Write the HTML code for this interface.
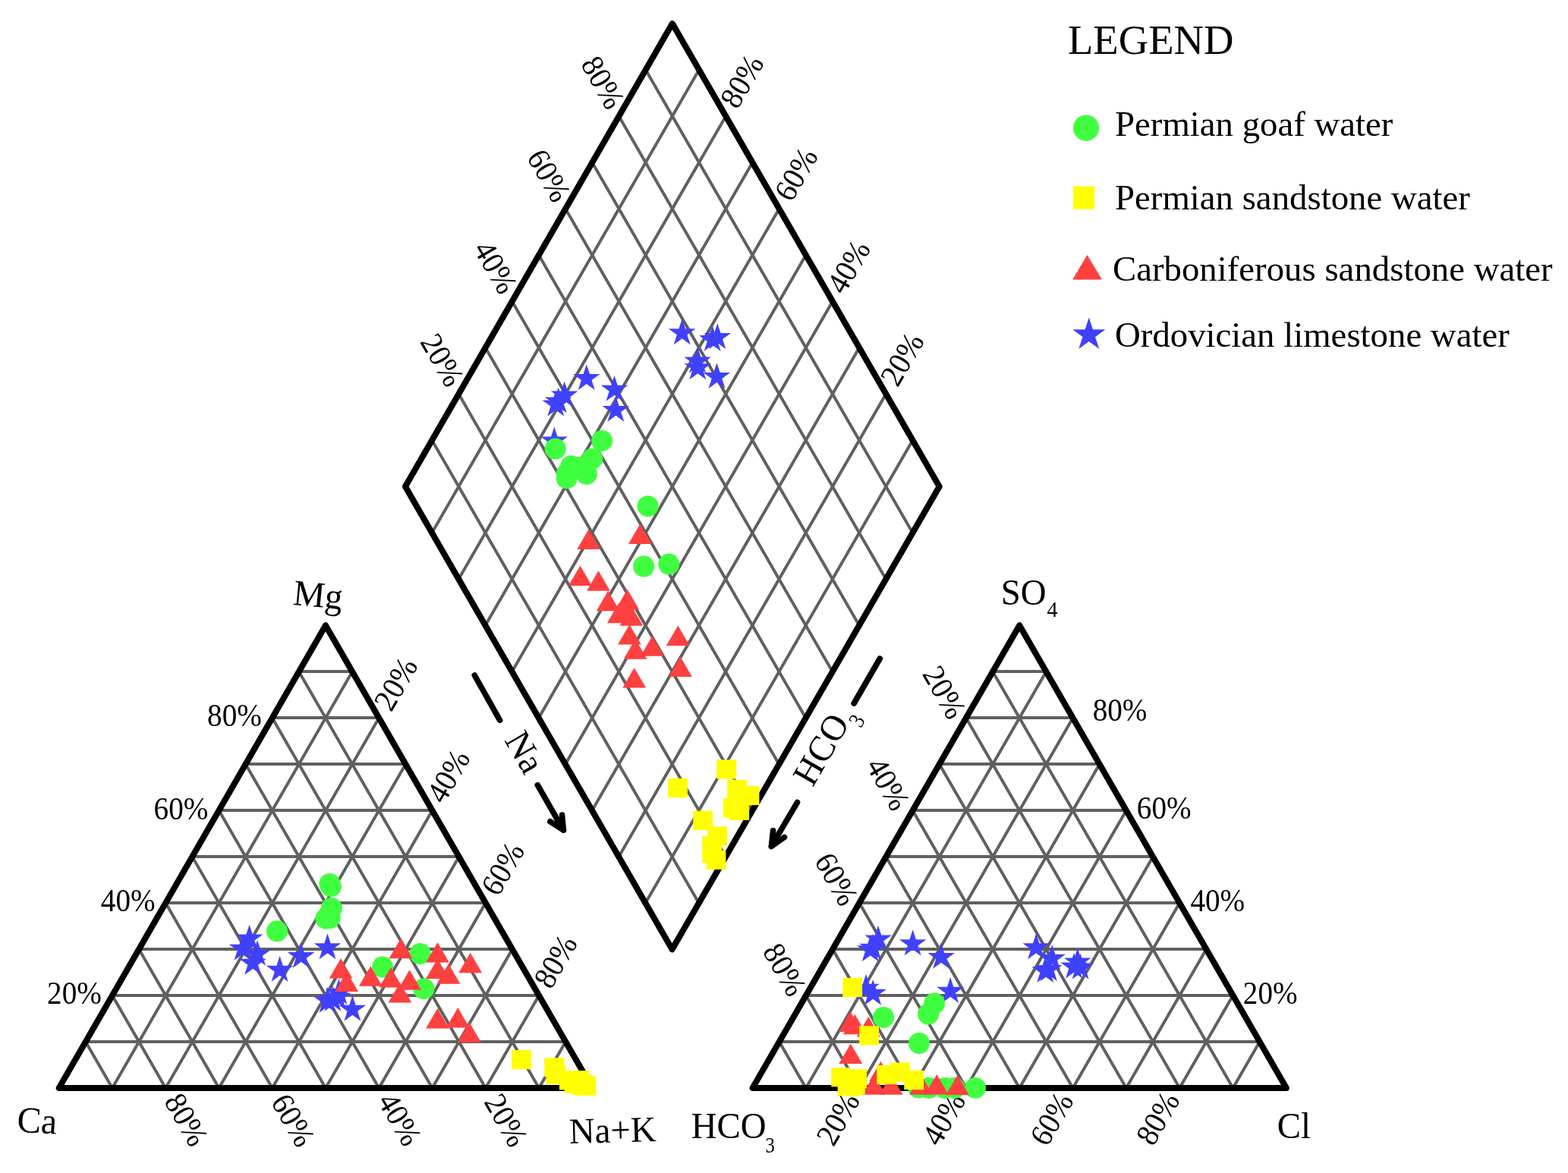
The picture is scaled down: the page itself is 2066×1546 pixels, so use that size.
<!DOCTYPE html>
<html lang="en"><head><meta charset="utf-8"><title>Piper diagram</title>
<style>html,body{margin:0;padding:0;background:#fff;}body{width:2066px;height:1546px;overflow:hidden;}svg{display:block;}text{font-family:'Liberation Serif', 'Times New Roman', serif;fill:#000;}</style>
</head><body>
<svg xmlns="http://www.w3.org/2000/svg" width="2066" height="1546" viewBox="0 0 2066 1546">
<rect width="2066" height="1546" fill="#fff"/>
<g stroke="#606060" stroke-width="4" fill="none">
<line x1="112.83" y1="1373" x2="745.26" y2="1373"/>
<line x1="147.97" y1="1434" x2="112.83" y2="1373.03"/>
<line x1="710.13" y1="1434" x2="745.26" y2="1373.03"/>
<line x1="147.96" y1="1312" x2="710.12" y2="1312"/>
<line x1="218.24" y1="1434" x2="147.96" y2="1312.06"/>
<line x1="639.86" y1="1434" x2="710.12" y2="1312.06"/>
<line x1="183.09" y1="1251" x2="674.98" y2="1251"/>
<line x1="288.51" y1="1434" x2="183.09" y2="1251.09"/>
<line x1="569.59" y1="1434" x2="674.98" y2="1251.09"/>
<line x1="218.22" y1="1190" x2="639.84" y2="1190"/>
<line x1="358.78" y1="1434" x2="218.22" y2="1190.12"/>
<line x1="499.32" y1="1434" x2="639.84" y2="1190.12"/>
<line x1="253.35" y1="1129" x2="604.7" y2="1129"/>
<line x1="429.05" y1="1434" x2="253.35" y2="1129.15"/>
<line x1="429.05" y1="1434" x2="604.7" y2="1129.15"/>
<line x1="288.48" y1="1068" x2="569.56" y2="1068"/>
<line x1="499.32" y1="1434" x2="288.48" y2="1068.18"/>
<line x1="358.78" y1="1434" x2="569.56" y2="1068.18"/>
<line x1="323.61" y1="1007" x2="534.42" y2="1007"/>
<line x1="569.59" y1="1434" x2="323.61" y2="1007.21"/>
<line x1="288.51" y1="1434" x2="534.42" y2="1007.21"/>
<line x1="358.74" y1="946" x2="499.28" y2="946"/>
<line x1="639.86" y1="1434" x2="358.74" y2="946.24"/>
<line x1="218.24" y1="1434" x2="499.28" y2="946.24"/>
<line x1="393.87" y1="885" x2="464.14" y2="885"/>
<line x1="710.13" y1="1434" x2="393.87" y2="885.27"/>
<line x1="147.97" y1="1434" x2="464.14" y2="885.27"/>
<line x1="1026.77" y1="1373" x2="1659.74" y2="1373"/>
<line x1="1061.93" y1="1434" x2="1026.77" y2="1373.03"/>
<line x1="1624.57" y1="1434" x2="1659.74" y2="1373.03"/>
<line x1="1061.93" y1="1312" x2="1624.57" y2="1312"/>
<line x1="1132.26" y1="1434" x2="1061.93" y2="1312.06"/>
<line x1="1554.24" y1="1434" x2="1624.57" y2="1312.06"/>
<line x1="1097.1" y1="1251" x2="1589.4" y2="1251"/>
<line x1="1202.59" y1="1434" x2="1097.1" y2="1251.09"/>
<line x1="1483.91" y1="1434" x2="1589.4" y2="1251.09"/>
<line x1="1132.26" y1="1190" x2="1554.24" y2="1190"/>
<line x1="1272.92" y1="1434" x2="1132.26" y2="1190.12"/>
<line x1="1413.58" y1="1434" x2="1554.24" y2="1190.12"/>
<line x1="1167.42" y1="1129" x2="1519.08" y2="1129"/>
<line x1="1343.25" y1="1434" x2="1167.42" y2="1129.15"/>
<line x1="1343.25" y1="1434" x2="1519.08" y2="1129.15"/>
<line x1="1202.59" y1="1068" x2="1483.91" y2="1068"/>
<line x1="1413.58" y1="1434" x2="1202.59" y2="1068.18"/>
<line x1="1272.92" y1="1434" x2="1483.91" y2="1068.18"/>
<line x1="1237.76" y1="1007" x2="1448.75" y2="1007"/>
<line x1="1483.91" y1="1434" x2="1237.76" y2="1007.21"/>
<line x1="1202.59" y1="1434" x2="1448.75" y2="1007.21"/>
<line x1="1272.92" y1="946" x2="1413.58" y2="946"/>
<line x1="1554.24" y1="1434" x2="1272.92" y2="946.24"/>
<line x1="1132.26" y1="1434" x2="1413.58" y2="946.24"/>
<line x1="1308.09" y1="885" x2="1378.41" y2="885"/>
<line x1="1624.57" y1="1434" x2="1308.09" y2="885.27"/>
<line x1="1061.93" y1="1434" x2="1378.41" y2="885.27"/>
<line x1="850.71" y1="92.12" x2="1202.49" y2="702.3"/>
<line x1="921.08" y1="92.12" x2="569.16" y2="702.3"/>
<line x1="815.52" y1="153.14" x2="1167.28" y2="763.3"/>
<line x1="956.26" y1="153.14" x2="604.32" y2="763.3"/>
<line x1="780.33" y1="214.16" x2="1132.07" y2="824.3"/>
<line x1="991.44" y1="214.16" x2="639.48" y2="824.3"/>
<line x1="745.14" y1="275.18" x2="1096.86" y2="885.3"/>
<line x1="1026.62" y1="275.18" x2="674.64" y2="885.3"/>
<line x1="709.95" y1="336.2" x2="1061.65" y2="946.3"/>
<line x1="1061.8" y1="336.2" x2="709.8" y2="946.3"/>
<line x1="674.76" y1="397.22" x2="1026.44" y2="1007.3"/>
<line x1="1096.98" y1="397.22" x2="744.96" y2="1007.3"/>
<line x1="639.57" y1="458.24" x2="991.23" y2="1068.3"/>
<line x1="1132.16" y1="458.24" x2="780.12" y2="1068.3"/>
<line x1="604.38" y1="519.26" x2="956.02" y2="1129.3"/>
<line x1="1167.34" y1="519.26" x2="815.28" y2="1129.3"/>
<line x1="569.19" y1="580.28" x2="920.81" y2="1190.3"/>
<line x1="1202.52" y1="580.28" x2="850.44" y2="1190.3"/>
</g>
<g stroke="#000" stroke-width="8" fill="none" stroke-linejoin="round">
<polygon points="77.7,1434 780.4,1434 429,824.3"/>
<polygon points="991.6,1434 1694.9,1434 1343.25,824.3"/>
<polygon points="885.9,31.1 1237.7,641.3 885.6,1251.3 534,641.3"/>
</g>
<g stroke="#000" stroke-width="7.6" fill="none" stroke-linecap="round" stroke-linejoin="round">
<line x1="625.3" y1="890" x2="658.5" y2="949.1"/>
<polyline points="708.3,1034.7 742.4,1094.1"/>
<polyline points="724.9,1082.7 742.4,1094.1 740.6,1074"/>
<line x1="1159.3" y1="868" x2="1125.2" y2="927"/>
<polyline points="1050.5,1057.6 1016.4,1115.4"/>
<polyline points="1018.6,1094.8 1016.4,1115.4 1033.5,1103.5"/>
</g>
<g>
<g transform="translate(1406.9 70.97)"><text transform="scale(1 1)" font-size="54.7">LEGEND</text></g>
<g transform="translate(764.42 84.5) rotate(60)"><text transform="scale(0.94 1)" font-size="41.7">80%</text></g>
<g transform="translate(693.35 207.17) rotate(60)"><text transform="scale(0.94 1)" font-size="41.7">60%</text></g>
<g transform="translate(623.05 327.98) rotate(60)"><text transform="scale(0.94 1)" font-size="41.7">40%</text></g>
<g transform="translate(552.83 450.4) rotate(60)"><text transform="scale(0.94 1)" font-size="41.7">20%</text></g>
<g transform="translate(971.6 145.2) rotate(-60)"><text transform="scale(0.94 1)" font-size="41.7">80%</text></g>
<g transform="translate(1042.9 267.73) rotate(-60)"><text transform="scale(0.94 1)" font-size="41.7">60%</text></g>
<g transform="translate(1112.1 389.75) rotate(-60)"><text transform="scale(0.94 1)" font-size="41.7">40%</text></g>
<g transform="translate(1182.82 511.52) rotate(-60)"><text transform="scale(0.94 1)" font-size="41.7">20%</text></g>
<g transform="translate(515.62 939.38) rotate(-60)"><text transform="scale(0.94 1)" font-size="41.7">20%</text></g>
<g transform="translate(584.7 1061) rotate(-60)"><text transform="scale(0.94 1)" font-size="41.7">40%</text></g>
<g transform="translate(656.5 1183.03) rotate(-60)"><text transform="scale(0.94 1)" font-size="41.7">60%</text></g>
<g transform="translate(725.9 1305.2) rotate(-60)"><text transform="scale(0.94 1)" font-size="41.7">80%</text></g>
<g transform="translate(215.62 1451.6) rotate(60)"><text transform="scale(0.94 1)" font-size="41.7">80%</text></g>
<g transform="translate(356.3 1452.28) rotate(60)"><text transform="scale(0.94 1)" font-size="41.7">60%</text></g>
<g transform="translate(496.85 1451.03) rotate(60)"><text transform="scale(0.94 1)" font-size="41.7">40%</text></g>
<g transform="translate(636.92 1452.35) rotate(60)"><text transform="scale(0.94 1)" font-size="41.7">20%</text></g>
<g transform="translate(273.05 957.33)"><text transform="scale(0.94 1)" font-size="41.7">80%</text></g>
<g transform="translate(202.62 1079.62)"><text transform="scale(0.94 1)" font-size="41.7">60%</text></g>
<g transform="translate(132.82 1200.62)"><text transform="scale(0.94 1)" font-size="41.7">40%</text></g>
<g transform="translate(62.12 1322.88)"><text transform="scale(0.94 1)" font-size="41.7">20%</text></g>
<g transform="translate(1214.42 888.3) rotate(60)"><text transform="scale(0.94 1)" font-size="41.7">20%</text></g>
<g transform="translate(1140.2 1009.08) rotate(60)"><text transform="scale(0.94 1)" font-size="41.7">40%</text></g>
<g transform="translate(1072.2 1134.53) rotate(60)"><text transform="scale(0.94 1)" font-size="41.7">60%</text></g>
<g transform="translate(1004.03 1253.85) rotate(60)"><text transform="scale(0.94 1)" font-size="41.7">80%</text></g>
<g transform="translate(1439.65 949.73)"><text transform="scale(0.94 1)" font-size="41.7">80%</text></g>
<g transform="translate(1497.83 1079.38)"><text transform="scale(0.94 1)" font-size="41.7">60%</text></g>
<g transform="translate(1568.42 1200.62)"><text transform="scale(0.94 1)" font-size="41.7">40%</text></g>
<g transform="translate(1637.83 1322.88)"><text transform="scale(0.94 1)" font-size="41.7">20%</text></g>
<g transform="translate(1098.28 1512.47) rotate(-60)"><text transform="scale(0.94 1)" font-size="41.7">20%</text></g>
<g transform="translate(1237.45 1512.45) rotate(-60)"><text transform="scale(0.94 1)" font-size="41.7">40%</text></g>
<g transform="translate(1379.65 1512.67) rotate(-60)"><text transform="scale(0.94 1)" font-size="41.7">60%</text></g>
<g transform="translate(1519.55 1512.05) rotate(-60)"><text transform="scale(0.94 1)" font-size="41.7">80%</text></g>
<g transform="translate(385.18 796.7) rotate(5.5)"><text transform="scale(0.98 1)" font-size="47.8">Mg</text></g>
<g transform="translate(21.67 1491.42) rotate(3.5)"><text transform="scale(0.98 1)" font-size="48.5">Ca</text></g>
<g transform="translate(750.17 1507.03) rotate(-1.5)"><text transform="scale(0.98 1)" font-size="47.8">Na+K</text></g>
<g transform="translate(910.65 1500)"><text transform="scale(0.98 1)" font-size="47.8">HCO</text><text transform="translate(97.91 18.7) scale(0.82 1)" font-size="30">3</text></g>
<g transform="translate(1682.78 1500.03)"><text transform="scale(0.98 1)" font-size="47.8">Cl</text></g>
<g transform="translate(1318.75 796.6)"><text transform="scale(0.98 1)" font-size="47.8">SO</text><text transform="translate(60.69 16) scale(0.95 1)" font-size="29.7">4</text></g>
<g transform="translate(664.02 975.58) rotate(60)"><text transform="scale(0.98 1)" font-size="47.8">Na</text></g>
<g transform="translate(1070.8 1038.38) rotate(-60)"><text transform="scale(0.98 1)" font-size="47.8">HCO</text><text transform="translate(99.41 16) scale(0.85 1)" font-size="30">3</text></g>
<text x="1469" y="179.3" font-size="46.8">Permian goaf water</text>
<text x="1469" y="275.5" font-size="46.8">Permian sandstone water</text>
<text x="1466" y="370.3" font-size="46.8">Carboniferous sandstone water</text>
<text x="1469" y="457" font-size="46.8">Ordovician limestone water</text>
</g>
<g>
<polygon fill="#4040ff" points="898.7,420.3 902.9,433.22 916.48,433.22 905.49,441.21 909.69,454.13 898.7,446.14 887.71,454.13 891.91,441.21 880.92,433.22 894.5,433.22"/>
<polygon fill="#4040ff" points="938.7,429 942.9,441.92 956.48,441.92 945.49,449.91 949.69,462.83 938.7,454.84 927.71,462.83 931.91,449.91 920.92,441.92 934.5,441.92"/>
<polygon fill="#4040ff" points="945.3,426.1 949.5,439.02 963.08,439.02 952.09,447.01 956.29,459.93 945.3,451.94 934.31,459.93 938.51,447.01 927.52,439.02 941.1,439.02"/>
<polygon fill="#4040ff" points="919.1,457.6 923.3,470.52 936.88,470.52 925.89,478.51 930.09,491.43 919.1,483.44 908.11,491.43 912.31,478.51 901.32,470.52 914.9,470.52"/>
<polygon fill="#4040ff" points="919.3,466.3 923.5,479.22 937.08,479.22 926.09,487.21 930.29,500.13 919.3,492.14 908.31,500.13 912.51,487.21 901.52,479.22 915.1,479.22"/>
<polygon fill="#4040ff" points="944.5,478.2 948.7,491.12 962.28,491.12 951.29,499.11 955.49,512.03 944.5,504.04 933.51,512.03 937.71,499.11 926.72,491.12 940.3,491.12"/>
<polygon fill="#4040ff" points="772.8,480.2 777,493.12 790.58,493.12 779.59,501.11 783.79,514.03 772.8,506.04 761.81,514.03 766.01,501.11 755.02,493.12 768.6,493.12"/>
<polygon fill="#4040ff" points="809.5,494.8 813.7,507.72 827.28,507.72 816.29,515.71 820.49,528.63 809.5,520.64 798.51,528.63 802.71,515.71 791.72,507.72 805.3,507.72"/>
<polygon fill="#4040ff" points="811.4,522 815.6,534.92 829.18,534.92 818.19,542.91 822.39,555.83 811.4,547.84 800.41,555.83 804.61,542.91 793.62,534.92 807.2,534.92"/>
<polygon fill="#4040ff" points="743.7,502.5 747.9,515.42 761.48,515.42 750.49,523.41 754.69,536.33 743.7,528.34 732.71,536.33 736.91,523.41 725.92,515.42 739.5,515.42"/>
<polygon fill="#4040ff" points="735.7,510.5 739.9,523.42 753.48,523.42 742.49,531.41 746.69,544.33 735.7,536.34 724.71,544.33 728.91,531.41 717.92,523.42 731.5,523.42"/>
<polygon fill="#4040ff" points="732.3,514.7 736.5,527.62 750.08,527.62 739.09,535.61 743.29,548.53 732.3,540.54 721.31,548.53 725.51,535.61 714.52,527.62 728.1,527.62"/>
<polygon fill="#4040ff" points="730.3,562.5 734.5,575.42 748.08,575.42 737.09,583.41 741.29,596.33 730.3,588.34 719.31,596.33 723.51,583.41 712.52,575.42 726.1,575.42"/>
<circle fill="#40ff40" cx="761" cy="615.9" r="14"/>
<circle fill="#40ff40" cx="746.8" cy="624.4" r="14"/>
<circle fill="#40ff40" cx="793.2" cy="580.9" r="14"/>
<circle fill="#40ff40" cx="731.7" cy="591.5" r="14"/>
<circle fill="#40ff40" cx="780.3" cy="604.7" r="14"/>
<circle fill="#40ff40" cx="752.4" cy="614.2" r="14"/>
<circle fill="#40ff40" cx="746.7" cy="630.3" r="14"/>
<circle fill="#40ff40" cx="772.9" cy="624.8" r="14"/>
<circle fill="#40ff40" cx="853.6" cy="667.2" r="14"/>
<circle fill="#40ff40" cx="848.2" cy="746.5" r="14"/>
<circle fill="#40ff40" cx="881.2" cy="743.6" r="14"/>
<polygon fill="#ff4040" points="824.7,793.3 809.3,819.8 840.1,819.8"/>
<polygon fill="#ff4040" points="843.4,690.5 828,717 858.8,717"/>
<polygon fill="#ff4040" points="775.7,697.5 760.3,724 791.1,724"/>
<polygon fill="#ff4040" points="764.5,745.5 749.1,772 779.9,772"/>
<polygon fill="#ff4040" points="788.5,752.3 773.1,778.8 803.9,778.8"/>
<polygon fill="#ff4040" points="801.2,778.7 785.8,805.2 816.6,805.2"/>
<polygon fill="#ff4040" points="826.6,776.8 811.2,803.3 842,803.3"/>
<polygon fill="#ff4040" points="815.3,794.7 799.9,821.2 830.7,821.2"/>
<polygon fill="#ff4040" points="831.9,798.3 816.5,824.8 847.3,824.8"/>
<polygon fill="#ff4040" points="829.4,823.1 814,849.6 844.8,849.6"/>
<polygon fill="#ff4040" points="859.4,838.3 844,864.8 874.8,864.8"/>
<polygon fill="#ff4040" points="893.3,824.5 877.9,851 908.7,851"/>
<polygon fill="#ff4040" points="837.1,842.3 821.7,868.8 852.5,868.8"/>
<polygon fill="#ff4040" points="896.5,865.6 881.1,892.1 911.9,892.1"/>
<polygon fill="#ff4040" points="835.7,880.1 820.3,906.6 851.1,906.6"/>
<rect fill="#ffff00" x="880.1" y="1025.9" width="25.8" height="25.2"/>
<rect fill="#ffff00" x="944.3" y="1001.4" width="25.8" height="25.2"/>
<rect fill="#ffff00" x="958.2" y="1027.8" width="25.8" height="25.2"/>
<rect fill="#ffff00" x="974.6" y="1035.9" width="25.8" height="25.2"/>
<rect fill="#ffff00" x="953" y="1052.3" width="25.8" height="25.2"/>
<rect fill="#ffff00" x="961.3" y="1055.7" width="25.8" height="25.2"/>
<rect fill="#ffff00" x="913.3" y="1068.8" width="25.8" height="25.2"/>
<rect fill="#ffff00" x="932.1" y="1089.4" width="25.8" height="25.2"/>
<rect fill="#ffff00" x="925.2" y="1102.2" width="25.8" height="25.2"/>
<rect fill="#ffff00" x="925.2" y="1111.8" width="25.8" height="25.2"/>
<rect fill="#ffff00" x="930.6" y="1120.8" width="25.8" height="25.2"/>
<polygon fill="#4040ff" points="328.6,1218.7 332.8,1231.62 346.38,1231.62 335.39,1239.61 339.59,1252.53 328.6,1244.54 317.61,1252.53 321.81,1239.61 310.82,1231.62 324.4,1231.62"/>
<polygon fill="#4040ff" points="319.5,1231.9 323.7,1244.82 337.28,1244.82 326.29,1252.81 330.49,1265.73 319.5,1257.74 308.51,1265.73 312.71,1252.81 301.72,1244.82 315.3,1244.82"/>
<polygon fill="#4040ff" points="339.1,1238.9 343.3,1251.82 356.88,1251.82 345.89,1259.81 350.09,1272.73 339.1,1264.74 328.11,1272.73 332.31,1259.81 321.32,1251.82 334.9,1251.82"/>
<polygon fill="#4040ff" points="333.2,1250.8 337.4,1263.72 350.98,1263.72 339.99,1271.71 344.19,1284.63 333.2,1276.64 322.21,1284.63 326.41,1271.71 315.42,1263.72 329,1263.72"/>
<polygon fill="#4040ff" points="368.6,1259.9 372.8,1272.82 386.38,1272.82 375.39,1280.81 379.59,1293.73 368.6,1285.74 357.61,1293.73 361.81,1280.81 350.82,1272.82 364.4,1272.82"/>
<polygon fill="#4040ff" points="396.7,1242 400.9,1254.92 414.48,1254.92 403.49,1262.91 407.69,1275.83 396.7,1267.84 385.71,1275.83 389.91,1262.91 378.92,1254.92 392.5,1254.92"/>
<polygon fill="#4040ff" points="431.5,1230.3 435.7,1243.22 449.28,1243.22 438.29,1251.21 442.49,1264.13 431.5,1256.14 420.51,1264.13 424.71,1251.21 413.72,1243.22 427.3,1243.22"/>
<polygon fill="#4040ff" points="431.6,1300.8 435.8,1313.72 449.38,1313.72 438.39,1321.71 442.59,1334.63 431.6,1326.64 420.61,1334.63 424.81,1321.71 413.82,1313.72 427.4,1313.72"/>
<polygon fill="#4040ff" points="444.6,1295.7 448.8,1308.62 462.38,1308.62 451.39,1316.61 455.59,1329.53 444.6,1321.54 433.61,1329.53 437.81,1316.61 426.82,1308.62 440.4,1308.62"/>
<polygon fill="#4040ff" points="438.5,1298.9 442.7,1311.82 456.28,1311.82 445.29,1319.81 449.49,1332.73 438.5,1324.74 427.51,1332.73 431.71,1319.81 420.72,1311.82 434.3,1311.82"/>
<polygon fill="#4040ff" points="446.5,1290 450.7,1302.92 464.28,1302.92 453.29,1310.91 457.49,1323.83 446.5,1315.84 435.51,1323.83 439.71,1310.91 428.72,1302.92 442.3,1302.92"/>
<polygon fill="#4040ff" points="464.4,1311.8 468.6,1324.72 482.18,1324.72 471.19,1332.71 475.39,1345.63 464.4,1337.64 453.41,1345.63 457.61,1332.71 446.62,1324.72 460.2,1324.72"/>
<circle fill="#40ff40" cx="434.4" cy="1164.9" r="14"/>
<circle fill="#40ff40" cx="436" cy="1168.2" r="14"/>
<circle fill="#40ff40" cx="436.9" cy="1196.9" r="14"/>
<circle fill="#40ff40" cx="429.4" cy="1210.7" r="14"/>
<circle fill="#40ff40" cx="434.7" cy="1209.9" r="14"/>
<circle fill="#40ff40" cx="365" cy="1227.3" r="14"/>
<circle fill="#40ff40" cx="504" cy="1274.5" r="14"/>
<circle fill="#40ff40" cx="553.5" cy="1257" r="14"/>
<circle fill="#40ff40" cx="558.4" cy="1303.2" r="14"/>
<polygon fill="#ff4040" points="449.1,1263 433.7,1289.5 464.5,1289.5"/>
<polygon fill="#ff4040" points="456.7,1280.5 441.3,1307 472.1,1307"/>
<polygon fill="#ff4040" points="488.3,1273.2 472.9,1299.7 503.7,1299.7"/>
<polygon fill="#ff4040" points="514.9,1275.1 499.5,1301.6 530.3,1301.6"/>
<polygon fill="#ff4040" points="528,1236.8 512.6,1263.3 543.4,1263.3"/>
<polygon fill="#ff4040" points="539.6,1278.3 524.2,1304.8 555,1304.8"/>
<polygon fill="#ff4040" points="527,1295 511.6,1321.5 542.4,1321.5"/>
<polygon fill="#ff4040" points="576.5,1241.9 561.1,1268.4 591.9,1268.4"/>
<polygon fill="#ff4040" points="576.5,1263.5 561.1,1290 591.9,1290"/>
<polygon fill="#ff4040" points="591,1270.2 575.6,1296.7 606.4,1296.7"/>
<polygon fill="#ff4040" points="619.7,1255.7 604.3,1282.2 635.1,1282.2"/>
<polygon fill="#ff4040" points="576.5,1329 561.1,1355.5 591.9,1355.5"/>
<polygon fill="#ff4040" points="603.3,1328 587.9,1354.5 618.7,1354.5"/>
<polygon fill="#ff4040" points="618.6,1347.4 603.2,1373.9 634,1373.9"/>
<rect fill="#ffff00" x="674.2" y="1384" width="25.8" height="25.2"/>
<rect fill="#ffff00" x="717.3" y="1394.2" width="25.8" height="25.2"/>
<rect fill="#ffff00" x="719.6" y="1403.9" width="25.8" height="25.2"/>
<rect fill="#ffff00" x="737" y="1411.2" width="25.8" height="25.2"/>
<rect fill="#ffff00" x="743.8" y="1415.8" width="25.8" height="25.2"/>
<rect fill="#ffff00" x="750.5" y="1411" width="25.8" height="25.2"/>
<rect fill="#ffff00" x="755.1" y="1416.6" width="25.8" height="25.2"/>
<rect fill="#ffff00" x="752.9" y="1417.9" width="25.8" height="25.2"/>
<rect fill="#ffff00" x="759.3" y="1418.8" width="25.8" height="25.2"/>
<polygon fill="#4040ff" points="1157.1,1219.7 1161.3,1232.62 1174.88,1232.62 1163.89,1240.61 1168.09,1253.53 1157.1,1245.54 1146.11,1253.53 1150.31,1240.61 1139.32,1232.62 1152.9,1232.62"/>
<polygon fill="#4040ff" points="1146.7,1233.4 1150.9,1246.32 1164.48,1246.32 1153.49,1254.31 1157.69,1267.23 1146.7,1259.24 1135.71,1267.23 1139.91,1254.31 1128.92,1246.32 1142.5,1246.32"/>
<polygon fill="#4040ff" points="1150,1230.8 1154.2,1243.72 1167.78,1243.72 1156.79,1251.71 1160.99,1264.63 1150,1256.64 1139.01,1264.63 1143.21,1251.71 1132.22,1243.72 1145.8,1243.72"/>
<polygon fill="#4040ff" points="1202.7,1225.3 1206.9,1238.22 1220.48,1238.22 1209.49,1246.21 1213.69,1259.13 1202.7,1251.14 1191.71,1259.13 1195.91,1246.21 1184.92,1238.22 1198.5,1238.22"/>
<polygon fill="#4040ff" points="1240.1,1243 1244.3,1255.92 1257.88,1255.92 1246.89,1263.91 1251.09,1276.83 1240.1,1268.84 1229.11,1276.83 1233.31,1263.91 1222.32,1255.92 1235.9,1255.92"/>
<polygon fill="#4040ff" points="1252.2,1287.9 1256.4,1300.82 1269.98,1300.82 1258.99,1308.81 1263.19,1321.73 1252.2,1313.74 1241.21,1321.73 1245.41,1308.81 1234.42,1300.82 1248,1300.82"/>
<polygon fill="#4040ff" points="1141.1,1283.8 1145.3,1296.72 1158.88,1296.72 1147.89,1304.71 1152.09,1317.63 1141.1,1309.64 1130.11,1317.63 1134.31,1304.71 1123.32,1296.72 1136.9,1296.72"/>
<polygon fill="#4040ff" points="1150.2,1290.9 1154.4,1303.82 1167.98,1303.82 1156.99,1311.81 1161.19,1324.73 1150.2,1316.74 1139.21,1324.73 1143.41,1311.81 1132.42,1303.82 1146,1303.82"/>
<polygon fill="#4040ff" points="1365.2,1230.3 1369.4,1243.22 1382.98,1243.22 1371.99,1251.21 1376.19,1264.13 1365.2,1256.14 1354.21,1264.13 1358.41,1251.21 1347.42,1243.22 1361,1243.22"/>
<polygon fill="#4040ff" points="1386.2,1244.9 1390.4,1257.82 1403.98,1257.82 1392.99,1265.81 1397.19,1278.73 1386.2,1270.74 1375.21,1278.73 1379.41,1265.81 1368.42,1257.82 1382,1257.82"/>
<polygon fill="#4040ff" points="1377.2,1261.1 1381.4,1274.02 1394.98,1274.02 1383.99,1282.01 1388.19,1294.93 1377.2,1286.94 1366.21,1294.93 1370.41,1282.01 1359.42,1274.02 1373,1274.02"/>
<polygon fill="#4040ff" points="1381.9,1259.1 1386.1,1272.02 1399.68,1272.02 1388.69,1280.01 1392.89,1292.93 1381.9,1284.94 1370.91,1292.93 1375.11,1280.01 1364.12,1272.02 1377.7,1272.02"/>
<polygon fill="#4040ff" points="1419.8,1249.7 1424,1262.62 1437.58,1262.62 1426.59,1270.61 1430.79,1283.53 1419.8,1275.54 1408.81,1283.53 1413.01,1270.61 1402.02,1262.62 1415.6,1262.62"/>
<polygon fill="#4040ff" points="1415.1,1255.7 1419.3,1268.62 1432.88,1268.62 1421.89,1276.61 1426.09,1289.53 1415.1,1281.54 1404.11,1289.53 1408.31,1276.61 1397.32,1268.62 1410.9,1268.62"/>
<polygon fill="#4040ff" points="1423.6,1256.7 1427.8,1269.62 1441.38,1269.62 1430.39,1277.61 1434.59,1290.53 1423.6,1282.54 1412.61,1290.53 1416.81,1277.61 1405.82,1269.62 1419.4,1269.62"/>
<circle fill="#40ff40" cx="1164.1" cy="1340.9" r="14"/>
<circle fill="#40ff40" cx="1231.1" cy="1322.6" r="14"/>
<circle fill="#40ff40" cx="1223.1" cy="1336.5" r="14"/>
<circle fill="#40ff40" cx="1211" cy="1375" r="14"/>
<circle fill="#40ff40" cx="1210.1" cy="1433.5" r="14"/>
<circle fill="#40ff40" cx="1224.1" cy="1434.1" r="14"/>
<circle fill="#40ff40" cx="1245" cy="1434.1" r="14"/>
<circle fill="#40ff40" cx="1257.7" cy="1434.1" r="14"/>
<circle fill="#40ff40" cx="1285" cy="1433.9" r="14"/>
<polygon fill="#ff4040" points="1120.5,1333.6 1105.1,1360.1 1135.9,1360.1"/>
<polygon fill="#ff4040" points="1126.3,1336.8 1110.9,1363.3 1141.7,1363.3"/>
<polygon fill="#ff4040" points="1144.3,1340 1128.9,1366.5 1159.7,1366.5"/>
<polygon fill="#ff4040" points="1120.8,1375.4 1105.4,1401.9 1136.2,1401.9"/>
<polygon fill="#ff4040" points="1160.5,1398.7 1145.1,1425.2 1175.9,1425.2"/>
<polygon fill="#ff4040" points="1151.7,1416.3 1136.3,1442.8 1167.1,1442.8"/>
<polygon fill="#ff4040" points="1174.1,1416.3 1158.7,1442.8 1189.5,1442.8"/>
<polygon fill="#ff4040" points="1213.6,1416.3 1198.2,1442.8 1229,1442.8"/>
<polygon fill="#ff4040" points="1234.3,1416.1 1218.9,1442.6 1249.7,1442.6"/>
<polygon fill="#ff4040" points="1261.6,1416.7 1246.2,1443.2 1277,1443.2"/>
<rect fill="#ffff00" x="1110.3" y="1288.9" width="25.8" height="25.2"/>
<rect fill="#ffff00" x="1132.2" y="1352.2" width="25.8" height="25.2"/>
<rect fill="#ffff00" x="1095.3" y="1407.1" width="25.8" height="25.2"/>
<rect fill="#ffff00" x="1116.3" y="1409.3" width="25.8" height="25.2"/>
<rect fill="#ffff00" x="1103.7" y="1419.2" width="25.8" height="25.2"/>
<rect fill="#ffff00" x="1107.9" y="1419.2" width="25.8" height="25.2"/>
<rect fill="#ffff00" x="1114.2" y="1416.9" width="25.8" height="25.2"/>
<rect fill="#ffff00" x="1155.3" y="1403.9" width="25.8" height="25.2"/>
<rect fill="#ffff00" x="1173.1" y="1400.5" width="25.8" height="25.2"/>
<rect fill="#ffff00" x="1191.3" y="1410.9" width="25.8" height="25.2"/>
<circle fill="#40ff40" cx="1431.1" cy="168.7" r="17.2"/>
<rect fill="#ffff00" x="1414.1" y="245.6" width="28" height="30"/>
<polygon fill="#ff4040" points="1432.5,336 1413.2,368.6 1452,368.6"/>
<polygon fill="#4040ff" points="1434.8,418.4 1439.92,434.15 1456.48,434.15 1443.08,443.89 1448.2,459.65 1434.8,449.91 1421.4,459.65 1426.52,443.89 1413.12,434.15 1429.68,434.15"/>
</g>
</svg>
</body></html>
